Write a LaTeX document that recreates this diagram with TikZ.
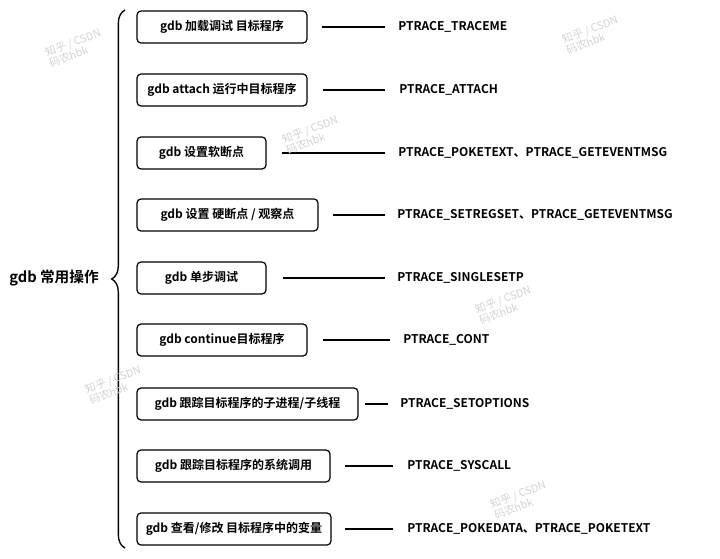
\documentclass[tikz,border=0pt]{standalone}
\usepackage{fontspec}
\setmainfont{Noto Sans CJK SC}[BoldFont={Noto Sans CJK SC Bold}]
\usetikzlibrary{decorations.pathreplacing,fit}
\begin{document}
\begin{tikzpicture}[x=0.75pt,y=-0.75pt,font=\bfseries\fontsize{9}{11}\selectfont,
 lab/.style={anchor=west,inner sep=0pt},
 conn/.style={line width=0.9pt},
 wm/.style={gray!35,font=\fontsize{8}{9}\selectfont,rotate=20,align=left}]
\useasboundingbox (0,0) rectangle (720,559);
\node[anchor=center,font=\bfseries\fontsize{11}{13}\selectfont] (root) at (54,278) {gdb 常用操作};
\draw[line width=1pt,decorate,decoration={brace,amplitude=10pt}] (125,548) -- (125,10) coordinate (bt);
\foreach \i/\y/\r/\a/\b/\tx/\bt/\pt in {
1/27/307/322/385/398/{gdb 加载调试 目标程序}/{PTRACE\_TRACEME},
2/90/307/323/385/399/{gdb attach 运行中目标程序}/{PTRACE\_ATTACH},
3/153/266/282/385/398/{gdb 设置软断点}/{PTRACE\_POKETEXT、PTRACE\_GETEVENTMSG},
4/215/318/333/385/397/{gdb 设置 硬断点 / 观察点}/{PTRACE\_SETREGSET、PTRACE\_GETEVENTMSG},
5/278/266/283/385/397/{gdb 单步调试}/{PTRACE\_SINGLESETP},
6/340/307/323/390/403/{gdb continue目标程序}/{PTRACE\_CONT},
7/404/358/365/388/400/{gdb 跟踪目标程序的子进程/子线程}/{PTRACE\_SETOPTIONS},
8/466/330/345/393/407/{gdb 跟踪目标程序的系统调用}/{PTRACE\_SYSCALL},
9/529/331/345/393/407/{gdb 查看/修改 目标程序中的变量}/{PTRACE\_POKEDATA、PTRACE\_POKETEXT}}{
  \path (137,\y-16) coordinate (bl\i) (\r,\y+16) coordinate (br\i);
  \node[draw,rounded corners=3pt,line width=0.9pt,fit=(bl\i)(br\i),inner sep=0pt] (b\i) {};
  \node at (b\i.center) {\bt};
  \coordinate (s\i) at (\a,\y);
  \coordinate (e\i) at (\b,\y);
  \draw[conn] (s\i) -- (e\i);
  \node[lab] (t\i) at (\tx,\y) {\pt};
}
\foreach \x/\y in {75/48, 592/35, 312/135, 505/305, 115/385, 520/500}
  \node[wm] at (\x,\y) {知乎 / CSDN\\码农hbk};
\end{tikzpicture}
\end{document}
